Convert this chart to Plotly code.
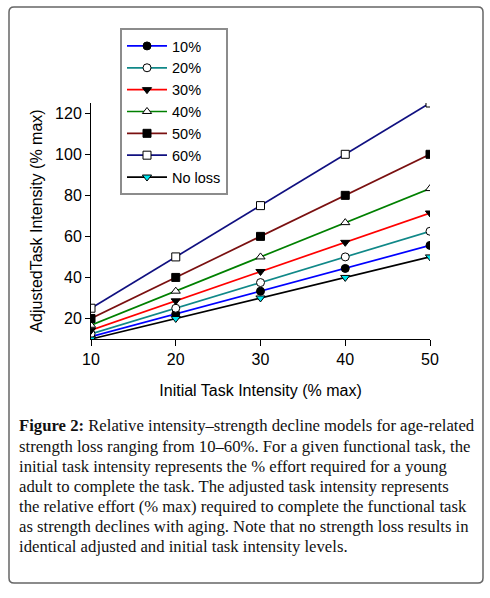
import plotly.graph_objects as go

x_vals = [10, 20, 30, 40, 50]
loss_10 = [11.1, 22.2, 33.3, 44.4, 55.6]
loss_20 = [12.5, 25.0, 37.5, 50.0, 62.5]
loss_30 = [14.3, 28.6, 42.9, 57.1, 71.4]
loss_40 = [16.7, 33.3, 50.0, 66.7, 83.3]
loss_50 = [20.0, 40.0, 60.0, 80.0, 100.0]
loss_60 = [25.0, 50.0, 75.0, 100.0, 125.0]
no_loss = [10, 20, 30, 40, 50]

series = [
    ("10%", loss_10, "#0000ff", "circle", "black", "black"),
    ("20%", loss_20, "#108888", "circle", "white", "black"),
    ("30%", loss_30, "#ff0000", "triangle-down", "black", "black"),
    ("40%", loss_40, "#008000", "triangle-up", "white", "black"),
    ("50%", loss_50, "#7a1010", "square", "black", "black"),
    ("60%", loss_60, "#101080", "square", "white", "black"),
    ("No loss", no_loss, "#000000", "triangle-down", "#00e5ee", "black"),
]

W, H = 490, 598
L, R, T, B = 91, 430, 103, 339

def px(xp):
    return (xp - L) / (R - L)

def py(yp):
    return (B - yp) / (B - T)

fig = go.Figure()
for name, ys, col, sym, fill, edge in series:
    fig.add_trace(go.Scatter(
        x=x_vals, y=ys, name=name, mode="lines+markers",
        line=dict(color=col, width=1.7),
        marker=dict(symbol=sym, size=8, color=fill, line=dict(color=edge, width=1)),
    ))

caption_lines = [
    "<b>Figure 2:</b> Relative intensity–strength decline models for age-related",
    "strength loss ranging from 10–60%. For a given functional task, the",
    "initial task intensity represents the % effort required for a young",
    "adult to complete the task. The adjusted task intensity represents",
    "the relative effort (% max) required to complete the functional task",
    "as strength declines with aging. Note that no strength loss results in",
    "identical adjusted and initial task intensity levels.",
]
line_y = [425, 446, 466, 486, 506, 526, 546]
annotations = []
for txt, yy in zip(caption_lines, line_y):
    annotations.append(dict(
        text=txt, xref="paper", yref="paper", x=px(17), y=py(yy),
        xanchor="left", yanchor="middle", showarrow=False,
        font=dict(family="Liberation Serif", size=16.7, color="#111111"),
    ))

# rounded outer border
x0, x1, y0, y1, r = 9, 483, 7, 583, 5
def P(a, b):
    return f"{px(a):.5f},{py(b):.5f}"
path = (f"M {P(x0 + r, y0)} L {P(x1 - r, y0)} Q {P(x1, y0)} {P(x1, y0 + r)} "
        f"L {P(x1, y1 - r)} Q {P(x1, y1)} {P(x1 - r, y1)} "
        f"L {P(x0 + r, y1)} Q {P(x0, y1)} {P(x0, y1 - r)} "
        f"L {P(x0, y0 + r)} Q {P(x0, y0)} {P(x0 + r, y0)} Z")

fig.update_layout(
    width=W, height=H,
    margin=dict(l=L, r=W - R, t=T, b=H - B, pad=0),
    paper_bgcolor="white", plot_bgcolor="white",
    font=dict(family="Arial, Liberation Sans", size=16, color="black"),
    showlegend=True,
    legend=dict(
        x=px(120), y=py(28), xanchor="left", yanchor="top",
        bordercolor="#8c8c8c", borderwidth=2, bgcolor="white",
        font=dict(size=14.5, family="Arial, Liberation Sans"),
        itemwidth=40, tracegroupgap=0,
    ),
    xaxis=dict(
        range=[10, 50], tickvals=[10, 20, 30, 40, 50],
        showline=True, linecolor="black", linewidth=1,
        ticks="outside", ticklen=6, tickcolor="black",
        showgrid=False, zeroline=False,
        title=dict(text="Initial Task Intensity (% max)", standoff=17,
                   font=dict(size=16)),
        tickfont=dict(size=16),
    ),
    yaxis=dict(
        range=[10, 125], tickvals=[20, 40, 60, 80, 100, 120],
        showline=True, linecolor="black", linewidth=1,
        ticks="outside", ticklen=5, tickcolor="black",
        showgrid=False, zeroline=False,
        title=dict(text="AdjustedTask Intensity (% max)", standoff=8,
                   font=dict(size=16)),
        tickfont=dict(size=16),
    ),
    annotations=annotations,
    shapes=[dict(type="path", path=path, xref="paper", yref="paper",
                 line=dict(color="#666666", width=1.5), layer="below")],
)

fig.write_html("out.html", config={"displayModeBar": False},
               post_script="document.body.style.margin='0';")
